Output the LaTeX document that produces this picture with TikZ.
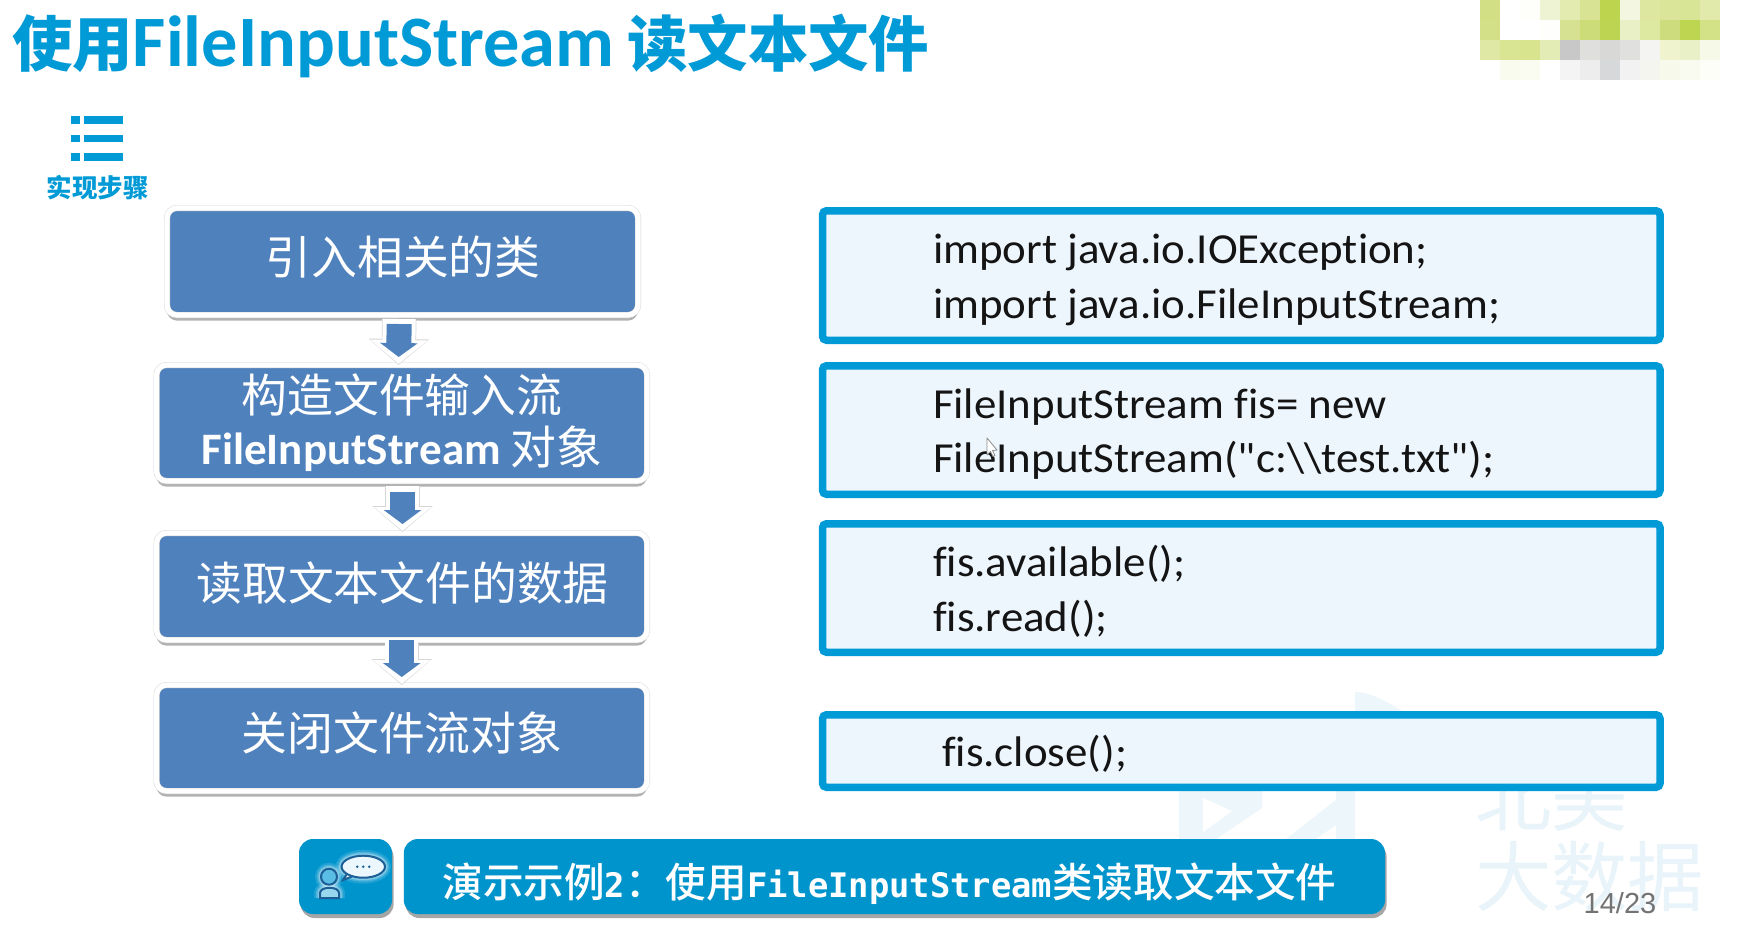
\documentclass[tikz,border=0pt]{standalone}
\usepackage{fontspec}
\usetikzlibrary{arrows.meta,shadows,calc}
\newfontfamily\cjk{Noto Sans CJK SC}
\newcommand\cjkb{\cjk\bfseries}
\newfontfamily\cjkm{Noto Sans CJK SC Medium}
\newfontfamily\carl{Carlito}[Ligatures=NoCommon,FakeStretch=1.05]
\newfontfamily\carlt{Carlito}[Ligatures=NoCommon]
\newcommand\carlb{\carlt\bfseries}
\newfontfamily\lmono{DejaVu Sans Mono}
\newfontfamily\arial{Liberation Sans}
\newcommand\fs[1]{\fontsize{#1}{#1}\selectfont}
\definecolor{brand}{HTML}{009AD6}
\definecolor{stepblue}{HTML}{4F81BD}
\definecolor{codebg}{HTML}{EEF6FD}
\definecolor{wm}{HTML}{E8F4FA}
\definecolor{wmlogo}{HTML}{EDF6FA}
\definecolor{bubbleline}{HTML}{1B5F96}
\tikzset{
  every node/.style={inner sep=0pt,outer sep=0pt},
  stepbox/.style={draw=black!18,double=white,double distance=2.6pt,line width=.2pt,fill=stepblue,rounded corners=5pt,
    drop shadow={shadow xshift=0pt,shadow yshift=-2.8pt,fill=black,opacity=.3}},
  codebox/.style={draw=brand,line width=3.75pt,fill=codebg,rounded corners=2pt},
  banner/.style={fill=brand!96!black,rounded corners=7pt,
    drop shadow={shadow xshift=.8pt,shadow yshift=-2pt,fill=black,opacity=.35}},
  steptext/.style={text=white,align=center},
  codetext/.style={text=black!92,align=left,anchor=west,font=\carl\fs{21.4}},
  arrowshade/.style={draw=black!16,fill=black!16,line width=17.2pt,-{Triangle[length=13pt,width=29.5pt]}},
  whitearrow/.style={draw=white,fill=white,line width=16.5pt,-{Triangle[length=12pt,width=28pt]}},
  bluearrow/.style={draw=stepblue,fill=stepblue,line width=12.5pt,-{Triangle[length=7pt,width=18.5pt]}},
  wmtext/.style={text=wm,align=left,font=\cjk\fs{38.2}},
  wmshape/.style={fill=wmlogo,draw=none},
}
\begin{document}
\begin{tikzpicture}[x=0.5pt,y=-0.5pt]
\useasboundingbox (0,0) rectangle (1748,927);
\fill[white] (0,0) rectangle (1748,927);
% mosaic
\foreach \row/\cols in {0/{D3DF85,FFFFFF,FEFEFB,EEF3D3,E3EBB0,D8E393,BDD44F,F3F6E0,DDE7A0,DAE59A,D9E596,E1EAAB},
  1/{D4E088,FFFFFF,FFFFFF,FEFEFC,D6E292,CBDC78,BDD453,E9F0C6,DDE8A0,CDDD7D,BED552,D3E287},
  2/{DFE8A5,DAE593,D8E48E,E4ECB5,C8C8C8,DFE0DE,D8D9D7,E0E0DF,F4F5F2,EFF4CE,E9F0C8,F6F9E8},
  3/{FFFFFF,F9FBEE,FAFBF1,FFFFFF,F4F4F5,EDEDEE,D7D8DA,F2F2F3,F4F5EF,F7F9EA,F9FBF0,FDFEF8}}{
  \foreach \c [count=\i from 0] in \cols {
    \definecolor{mc}{HTML}{\c}
    \fill[mc] ({1480+\i*20},{\row*20}) rectangle ({1500+\i*20},{20+\row*20});
  }
}
% watermark
\fill[wmshape] (1355,692) .. controls (1372,692) and (1392,705) .. (1404,712) -- (1355,712) -- cycle;
\fill[wmshape] (1179,785) rectangle (1197,880);
\fill[wmshape] (1197,785) -- (1262,785) -- (1262,808) -- (1197,852) -- cycle;
\fill[white] (1203,798) -- (1232,811) -- (1203,832) -- cycle;
\fill[wmshape] (1272,850) -- (1336,800) -- (1336,785) -- (1355,785) -- (1355,880) -- (1336,880) -- (1336,825) -- (1285,860) -- cycle;
\node[wmtext,anchor=west] (wm1) at (1475,836.5) {北美\\[2pt]大数据};
% title
\node[anchor=base west,text=brand] (title) at (12,66)
  {{\cjkb\fs{30.2}使用}{\carlb\fs{36.2}FileInputStream}{\cjkb\fs{30.2}\hspace{6.5pt}读文本文件}};
% list icon
\foreach \yy in {116,134.5,153}{
  \fill[brand] (71,\yy) rectangle (80,{\yy+7.5});
  \fill[brand] (84,\yy) rectangle (123,{\yy+7.5});
}
\node[text=brand,font=\cjkb\fs{12.75}] (steps) at (97.5,188) {实现步骤};
% flow boxes
\node[stepbox,minimum width=235.5pt,minimum height=53.5pt] (b1) at (402.5,261.5) {};
\node[stepbox,minimum width=245.25pt,minimum height=58pt] (b2) at (401.75,423) {};
\node[stepbox,minimum width=245.25pt,minimum height=53.5pt] (b3) at (401.75,586.5) {};
\node[stepbox,minimum width=245.25pt,minimum height=53pt] (b4) at (401.75,738) {};
\node[steptext,font=\cjk\fs{22.9}] (t1) at (403,257) {引入相关的类};
\node[steptext] (t2) at (402,422.5)
 {{\cjk\fs{22.9}构造文件输入流}\\[4pt]{\carlb\fs{22.5}FileInputStream}{\cjk\fs{22.9} 对象}};
\node[steptext,font=\cjk\fs{22.9}] (t3) at (402.5,583) {读取文本文件的数据};
\node[steptext,font=\cjk\fs{22.9}] (t4) at (402,733) {关闭文件流对象};
% block arrows
\draw[arrowshade,shorten <=2pt,shorten >=0pt] ([xshift=-1.6pt]b1.south) -- ([xshift=-1.6pt]b2.north);
\draw[whitearrow,shorten <=2pt,shorten >=.5pt] ([xshift=-1.6pt]b1.south) -- ([xshift=-1.6pt]b2.north);
\draw[bluearrow,shorten <=4.5pt,shorten >=4pt] ([xshift=-1.6pt]b1.south) -- ([xshift=-1.6pt]b2.north);
\draw[arrowshade,shorten <=2.5pt,shorten >=.5pt] ([xshift=.4pt]b2.south) -- ([xshift=.4pt]b3.north);
\draw[whitearrow,shorten <=2.5pt,shorten >=1pt] ([xshift=.4pt]b2.south) -- ([xshift=.4pt]b3.north);
\draw[bluearrow,shorten <=5.5pt,shorten >=4.5pt] ([xshift=.4pt]b2.south) -- ([xshift=.4pt]b3.north);
\draw[arrowshade,shorten <=1pt,shorten >=0pt] (b3.south) -- (b4.north);
\draw[whitearrow,shorten <=0pt,shorten >=.5pt] (b3.south) -- (b4.north);
\draw[bluearrow,shorten <=0pt,shorten >=4pt] (b3.south) -- (b4.north);
% code boxes
\node[codebox,minimum width=418.75pt,minimum height=64.75pt] (r1) at (1241.25,275.5) {};
\node[codebox,minimum width=418.75pt,minimum height=64.25pt] (r2) at (1241.25,430) {};
\node[codebox,minimum width=418.75pt,minimum height=64.25pt] (r3) at (1241.25,588) {};
\node[codebox,minimum width=418.75pt,minimum height=36.25pt] (r4) at (1241.25,751) {};
\node[codetext] (c1) at (933,280) {import java.io.IOException;\\[6pt]import java.io.FileInputStream;};
\node[codetext] (c2) at (933,434) {FileInputStream fis= new\\[6pt]FileInputStream("c:\textbackslash\textbackslash test.txt");};
\node[codetext] (c3) at (933,591) {fis.available();\\[6pt]fis.read();};
\node[codetext] (c4) at (942,754) {fis.close();};
% cursor
\draw[fill=white,draw=black!45,line width=.4pt,line join=round]
  (987,438) -- (987,455) -- (990.5,451.5) -- (993,456.5) -- (995,455.5) -- (992.5,450.5) -- (997,450) -- cycle;
% banner
\node[banner,minimum width=46.5pt,minimum height=37.5pt] (icon) at (345.5,876.5) {};
\node[banner,minimum width=490.6pt,minimum height=37.5pt] (ban) at (894.4,876.5) {};
\node[text=white] (bantext) at (889.5,884)
 {\cjkm\fs{20.3}演示示例{\lmono\bfseries\fs{16.9}2}：使用{\lmono\bfseries\fs{16.9}FileInputStream}类读取文本文件};
% icon drawing
\begin{scope}
\foreach \w/\o in {6/.12,4/.2,2.5/.3}{
  \draw[white,line width=\w pt,opacity=\o] (363.3,866.7) ellipse (21.7 and 11);
  \draw[white,line width=\w pt,opacity=\o] (329,876.7) circle (8);
  \draw[white,line width=\w pt,opacity=\o] (320,898) -- (320,893) .. controls (320,886) and (339,886) .. (339,893) -- (339,898);
}
\fill[white] (347,872) -- (343,880) -- (354,876) -- cycle;
\draw[bubbleline,line width=1pt] (347.5,873) -- (343,880) -- (352,876.5);
\draw[bubbleline,line width=1pt,fill=white!92!brand] (363.3,866.7) ellipse (21.7 and 11);
\foreach \dx in {-6,0,6}{\fill[bubbleline] ({363.3+\dx},866.7) circle (1.4);}
\draw[bubbleline,line width=1pt,fill=white!35!brand] (329,876.7) circle (8);
\draw[bubbleline,line width=1pt,fill=white!60!brand] (320,898) -- (320,893) .. controls (320,886) and (339,886) .. (339,893) -- (339,898) -- cycle;
\end{scope}
% page number
\node[text=black!55,font=\arial\fs{14.5},anchor=base] (page) at (1620,913) {14/23};
\end{tikzpicture}
\end{document}
